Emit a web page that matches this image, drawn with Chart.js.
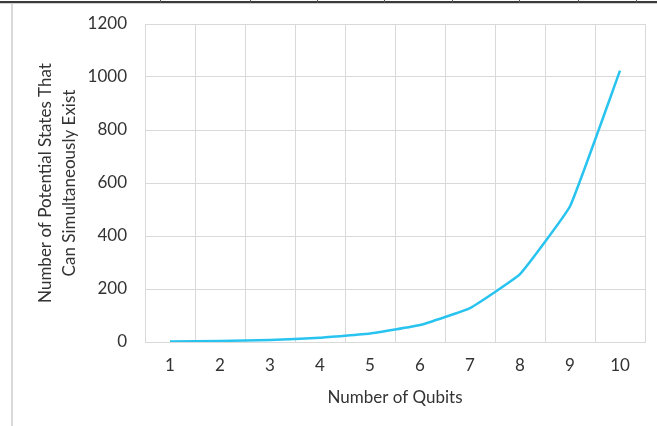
<!DOCTYPE html>
<html>
<head>
<meta charset="utf-8">
<script src="https://cdn.jsdelivr.net/npm/chart.js@4"></script>
<style>
    html, body { margin: 0; padding: 0; background: #fff; }
    #wrap { width: 657px; height: 426px; }
</style>
</head>
<body>
<div id="wrap"><canvas id="lineChart" width="657" height="426"></canvas></div>
<script>
const qubits = ['1', '2', '3', '4', '5', '6', '7', '8', '9', '10'];
const states = [2, 4, 8, 16, 32, 64, 128, 256, 512, 1024];
const yTicks = [0, 200, 400, 600, 800, 1000, 1200];

// cropped page edges seen in the picture (table line on top, margin line on the left)
const pageEdges = {
    id: 'pageEdges',
    afterDraw(chart) {
        const c = chart.ctx;
        c.save();
        c.fillStyle = '#3a3a3a';
        c.fillRect(0, 1, 657, 2);
        c.fillStyle = '#d0d0d0';
        c.fillRect(0, 3, 657, 1);
        c.fillStyle = '#555';
        [160, 250, 317, 384, 452, 519, 578, 636].forEach(x => c.fillRect(x, 0, 1, 3));
        c.fillStyle = '#d9d9d9';
        c.fillRect(11, 4, 2, 422);
        c.restore();
    }
};

const txt = '#333333';
const lineCtx = document.getElementById('lineChart');
new Chart(lineCtx, {
    type: 'line',
    data: {
        labels: qubits,
        datasets: [{
            data: states,
            borderColor: '#29c3f0',
            borderWidth: 2.5,
            pointRadius: 0,
            tension: 0.1
        }]
    },
    options: {
        responsive: false,
        animation: false,
        layout: { padding: { top: 24, right: 12, bottom: 0, left: 0 } },
        plugins: { legend: { display: false }, tooltip: { enabled: false } },
        scales: {
            x: {
                offset: true,
                grid: { color: '#d9d9d9', drawTicks: false, offset: true },
                border: { color: '#d9d9d9' },
                ticks: { color: txt, font: { family: 'Lato', size: 17 }, padding: 13 },
                title: {
                    display: true, text: 'Number of Qubits', color: txt,
                    font: { family: 'Lato', size: 17 }, padding: { top: 4, bottom: 18 }
                },
                afterFit(scale) { scale.height = 84; scale.paddingLeft = 0; scale.paddingRight = 0; }
            },
            y: {
                min: 0,
                max: 1200,
                afterBuildTicks(scale) { scale.ticks = yTicks.map(v => ({ value: v })); },
                grid: { color: '#d9d9d9', drawTicks: false },
                border: { display: false },
                ticks: {
                    color: txt, font: { family: 'Lato', size: 17 }, padding: 18,
                    callback: v => String(v)
                },
                title: {
                    display: true,
                    text: ['Number of Potential States That', 'Can Simultaneously Exist'],
                    color: txt,
                    font: { family: 'Lato', size: 17, lineHeight: 1.4 },
                    padding: { top: 34, bottom: 0 }
                },
                afterFit(scale) { scale.width = 145; scale.paddingTop = 0; scale.paddingBottom = 0; }
            }
        }
    },
    plugins: [pageEdges]
});
</script>
</body>
</html>
